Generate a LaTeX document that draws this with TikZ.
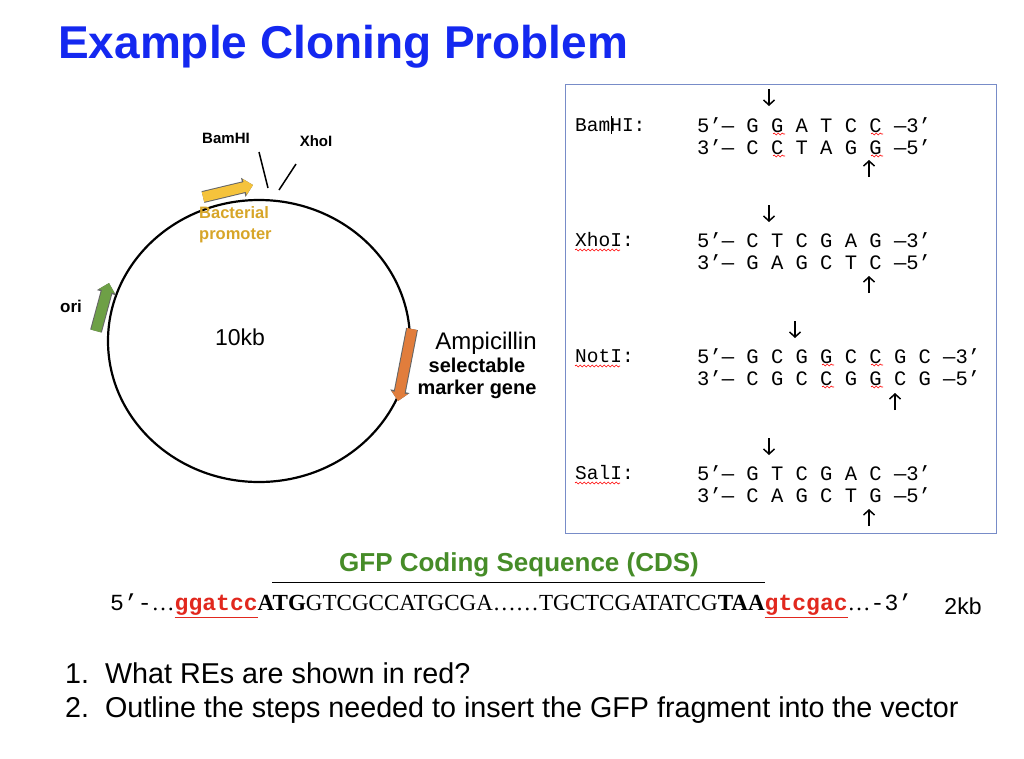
\documentclass[tikz,border=0pt]{standalone}
\usepackage{fontspec}
\setmainfont{Liberation Sans}
\newfontfamily\mono{Liberation Mono}
\newfontfamily\serif{Liberation Serif}
\usetikzlibrary{decorations.pathmorphing,arrows.meta}
\definecolor{titleblue}{RGB}{20,40,240}
\definecolor{gold}{RGB}{215,165,40}
\definecolor{goldfill}{RGB}{245,195,60}
\definecolor{grn}{RGB}{110,160,70}
\definecolor{orng}{RGB}{225,125,60}
\definecolor{gfpgreen}{RGB}{70,140,40}
\definecolor{seqred}{RGB}{225,40,30}
\definecolor{boxblue}{RGB}{120,140,200}
\newcommand{\fs}[1]{\fontsize{#1}{#1}\selectfont}
\tikzset{x=1pt,y=-1pt,
 seq/.style={anchor=west,inner sep=0,font=\mono\fs{20.5}},
 lab/.style={anchor=west,inner sep=0,font=\mono\fs{19.5}},
 cutarrow/.style={-{Straight Barb[length=5pt,width=11pt]},line width=1.5pt},
 wavy/.style={red,decorate,decoration={snake,amplitude=1pt,segment length=4pt},line width=0.6pt},
 outl/.style={-{Triangle[length=10pt,width=19pt]},line width=12pt,draw=black!60},
 inr/.style={-{Triangle[length=8.5pt,width=16pt]},line width=10pt},
 small/.style={font=\bfseries\fs{15},inner sep=0}}
\begin{document}
\begin{tikzpicture}
\useasboundingbox (0,0) rectangle (1024,758);
\node[anchor=west,inner sep=0,text=titleblue,font=\bfseries\fs{46}] (title) at (58,47) {Example Cloning Problem};
% plasmid
\draw[line width=2.2pt] (259,341) ellipse (151 and 141);
\coordinate (b1) at (259,152); \coordinate (b2) at (268,188);
\coordinate (x1) at (296,164); \coordinate (x2) at (279,190);
\draw[line width=1.5pt] (b1)--(b2); \draw[line width=1.5pt] (x1)--(x2);
\node[small] (bam) at (226,138) {BamHI};
\node[small] (xho) at (316,141) {XhoI};
\coordinate (p1) at (203,197); \coordinate (p2) at (253,185);
\draw[outl] (p1)--(p2); \draw[inr,goldfill] (p1)--(p2);
\node[small,text=gold,anchor=west,font=\bfseries\fs{16.5}] (prom1) at (199,213) {Bacterial};
\node[small,text=gold,anchor=west,font=\bfseries\fs{16.5}] (prom2) at (199,236) {promoter};
\coordinate (o1) at (96,331); \coordinate (o2) at (109,283);
\draw[outl] (o1)--(o2); \draw[inr,grn] (o1)--(o2);
\node[small,font=\bfseries\fs{17}] (ori) at (71,306) {ori};
\coordinate (a1) at (412,329); \coordinate (a2) at (398,401);
\draw[outl] (a1)--(a2); \draw[inr,orng] (a1)--(a2);
\node[inner sep=0,font=\fs{23}] (kb) at (240,337) {10kb};
\node[inner sep=0,font=\fs{24}] (amp) at (486,343) {Ampicillin};
\node[small,font=\bfseries\fs{20}] (sel) at (477,365) {selectable};
\node[small,font=\bfseries\fs{20}] (mk) at (477,389) {marker gene};
% box
\draw[boxblue,line width=0.8pt] (565,84) rectangle (996,533);
% BamHI
\node[lab] (l1) at (575,125) {BamHI:};
\draw[line width=0.6pt] (611,116)--(611,134);
\node[seq] (s1a) at (697,125) {5’— G G A T C C —3’};
\node[seq] (s1b) at (697,147) {3’— C C T A G G —5’};
\coordinate (d1a) at (769,89); \coordinate (d1b) at (769,106);
\coordinate (u1a) at (869,177); \coordinate (u1b) at (869,160);
\draw[cutarrow] (d1a)--(d1b); \draw[cutarrow] (u1a)--(u1b);
\draw[wavy] (773,134)--(785,134); \draw[wavy] (871,134)--(883,134);
\draw[wavy] (773,156)--(785,156); \draw[wavy] (871,156)--(883,156);
% XhoI
\node[lab] (l2) at (575,240) {XhoI:};
\draw[wavy] (575,250)--(620,250);
\node[seq] (s2a) at (697,240) {5’— C T C G A G —3’};
\node[seq] (s2b) at (697,262) {3’— G A G C T C —5’};
\coordinate (d2a) at (769,205); \coordinate (d2b) at (769,222);
\coordinate (u2a) at (869,293); \coordinate (u2b) at (869,276);
\draw[cutarrow] (d2a)--(d2b); \draw[cutarrow] (u2a)--(u2b);
% NotI
\node[lab] (l3) at (575,356) {NotI:};
\draw[wavy] (575,366)--(620,366);
\node[seq] (s3a) at (697,356) {5’— G C G G C C G C —3’};
\node[seq] (s3b) at (697,378) {3’— C G C C G G C G —5’};
\coordinate (d3a) at (795,321); \coordinate (d3b) at (795,338);
\coordinate (u3a) at (895,410); \coordinate (u3b) at (895,393);
\draw[cutarrow] (d3a)--(d3b); \draw[cutarrow] (u3a)--(u3b);
\draw[wavy] (822,365)--(834,365); \draw[wavy] (871,365)--(883,365);
\draw[wavy] (822,387)--(834,387); \draw[wavy] (871,387)--(883,387);
% SalI
\node[lab] (l4) at (575,473) {SalI:};
\draw[wavy] (575,483)--(620,483);
\node[seq] (s4a) at (697,473) {5’— G T C G A C —3’};
\node[seq] (s4b) at (697,495) {3’— C A G C T G —5’};
\coordinate (d4a) at (769,438); \coordinate (d4b) at (769,455);
\coordinate (u4a) at (869,526); \coordinate (u4b) at (869,509);
\draw[cutarrow] (d4a)--(d4b); \draw[cutarrow] (u4a)--(u4b);
% GFP
\node[inner sep=0,text=gfpgreen,font=\bfseries\fs{26}] (gfp) at (519,565) {GFP Coding Sequence (CDS)};
\coordinate (g1) at (272,582); \coordinate (g2) at (765,582);
\draw[line width=0.8pt] (g1)--(g2);
\node[anchor=west,inner sep=0] (seq) at (110,606) {\resizebox{802pt}{!}{\mono\fs{18}5’-\serif …\textcolor{seqred}{\bfseries\mono\underline{ggatcc}}\textbf{ATG}GTCGCCATGCGA……TGCTCGATATCG\textbf{TAA}\textcolor{seqred}{\bfseries\mono\underline{gtcgac}}…\mono-3’}};
\node[inner sep=0,font=\fs{23}] (kb2) at (963,606) {2kb};
\node[anchor=west,inner sep=0,font=\fs{28.7}] (q1) at (65,673) {1.\ \ What REs are shown in red?};
\node[anchor=west,inner sep=0,font=\fs{28.7}] (q2) at (65,710) {2.\ \ Outline the steps needed to insert the GFP fragment into the vector};
\end{tikzpicture}
\end{document}
